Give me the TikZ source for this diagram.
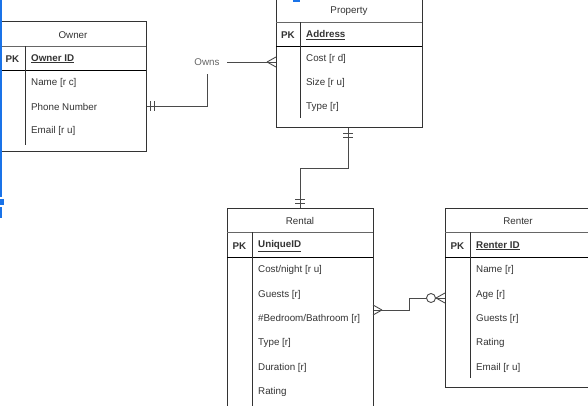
\documentclass[tikz,border=0pt]{standalone}
\usepackage{fontspec}
\setmainfont{Liberation Sans}
\definecolor{boxc}{HTML}{333333}
\definecolor{sepc}{HTML}{666666}
\definecolor{connc}{HTML}{4A4A4A}
\definecolor{txtc}{HTML}{333333}
\definecolor{selblue}{HTML}{1A73E8}
\begin{document}
\begin{tikzpicture}[x=1pt,y=-1pt,
  box/.style={draw=boxc, line width=0.9pt, inner sep=0pt, anchor=north west},
  ttl/.style={font=\fontsize{9.8}{11}\selectfont, text=txtc, inner sep=0pt, yshift=-0.8pt},
  fld/.style={font=\fontsize{9.8}{11}\selectfont, text=txtc, anchor=west, inner sep=0pt, yshift=-0.8pt},
  key/.style={fld, font=\fontsize{9.8}{11}\selectfont\bfseries},
  pk/.style={font=\fontsize{9.8}{11}\selectfont\bfseries, text=txtc, inner sep=0pt, yshift=-0.8pt},
  sep/.style={draw=sepc, line width=0.9pt},
  pksep/.style={draw=black, line width=1pt},
  vsep/.style={draw=boxc, line width=0.9pt},
  conn/.style={draw=connc, line width=0.9pt},
  lbl/.style={font=\fontsize{9.8}{11}\selectfont, text=sepc, fill=white, inner sep=0pt, minimum width=40pt, minimum height=24pt},
]
\useasboundingbox (0,0) rectangle (588,405);
\clip (0,0) rectangle (588,405);

% ---------- Owner ----------
\node[box, minimum width=146pt, minimum height=130pt] (owner) at (0,21) {};
\node[ttl] (ownerT) at (73,34) {Owner};
\draw[sep] (0,46) -- (146,46);
\draw[pksep] (0,70) -- (146,70);
\draw[vsep] (25,46) -- (25,145);
\node[pk] (ownerPK) at (12.5,58) {PK};
\node[key] (ownerK) at (31,58) {\underline{Owner ID}};
\node[fld] (ownerName) at (31,82) {Name [r c]};
\node[fld] (ownerPhone) at (31,106) {Phone Number};
\node[fld] (ownerEmail) at (31,130) {Email [r u]};

% ---------- Property ----------
\node[box, minimum width=146pt, minimum height=129pt] (property) at (276,-2) {};
\node[ttl] (propT) at (349,10) {Property};
\draw[sep] (276,22) -- (422,22);
\draw[pksep] (276,46) -- (422,46);
\draw[vsep] (300,22) -- (300,118);
\node[pk] (propPK) at (288,34) {PK};
\node[key] (propK) at (306,34) {\underline{Address}};
\node[fld] (propCost) at (306,58) {Cost [r d]};
\node[fld] (propSize) at (306,82) {Size [r u]};
\node[fld] (propType) at (306,106) {Type [r]};

% ---------- Rental ----------
\node[box, minimum width=146pt, minimum height=215pt] (rental) at (227,208) {};
\node[ttl] (rentalT) at (300,220) {Rental};
\draw[sep] (227,232) -- (373,232);
\draw[pksep] (227,257) -- (373,257);
\draw[vsep] (252,232) -- (252,420);
\node[pk] (rentalPK) at (239.5,245) {PK};
\node[key] (rentalK) at (258,245) {\underline{UniqueID}};
\node[fld] (rentalCost) at (258,269) {Cost/night [r u]};
\node[fld] (rentalGuests) at (258,294) {Guests [r]};
\node[fld] (rentalBed) at (258,318) {\#Bedroom/Bathroom [r]};
\node[fld] (rentalType) at (258,342) {Type [r]};
\node[fld] (rentalDur) at (258,367) {Duration [r]};
\node[fld] (rentalRating) at (258,391) {Rating};

% ---------- Renter ----------
\node[box, minimum width=146pt, minimum height=179pt] (renter) at (445,208) {};
\node[ttl] (renterT) at (518,220) {Renter};
\draw[sep] (445,232) -- (591,232);
\draw[pksep] (445,257) -- (591,257);
\draw[vsep] (470,232) -- (470,378);
\node[pk] (renterPK) at (457.5,245) {PK};
\node[key] (renterK) at (476,245) {\underline{Renter ID}};
\node[fld] (renterName) at (476,269) {Name [r]};
\node[fld] (renterAge) at (476,294) {Age [r]};
\node[fld] (renterGuests) at (476,318) {Guests [r]};
\node[fld] (renterRating) at (476,342) {Rating};
\node[fld] (renterEmail) at (476,367) {Email [r u]};

% ---------- Owner -- Property (Owns) ----------
\coordinate (ownsC) at (207,62);
\draw[conn] (owner.east |- ownerPhone) -| (ownsC) -- (property.west |- ownsC);
\draw[conn] (150,101) -- (150,111) (154,101) -- (154,111);
\draw[conn] (267,62) -- (276,57) (267,62) -- (276,67);
\node[lbl] (owns) at (ownsC) {Owns};

% ---------- Property -- Rental ----------
\coordinate (prB) at (348,168);
\coordinate (reT) at (300,168);
\draw[conn] (property.south -| prB) -- (prB) -- (reT) -- (rental.north -| reT);
\draw[conn] (343,133) -- (353,133) (343,137) -- (353,137);
\draw[conn] (295,199) -- (305,199) (295,203) -- (305,203);

% ---------- Rental -- Renter ----------
\coordinate (rrA) at (409,310);
\coordinate (rrB) at (409,298);
\draw[conn] (rental.east |- rrA) -- (rrA) -- (rrB) -- (renter.west |- rrB);
\draw[conn] (382,310) -- (373,305) (382,310) -- (373,315);
\draw[conn, fill=white] (431,298) circle[radius=4.5pt];
\draw[conn] (436,298) -- (445,293) (436,298) -- (445,303);

% ---------- selection marks ----------
\fill[selblue] (0,0) rectangle (2,197);
\fill[selblue] (0,199) rectangle (4,205);
\fill[selblue] (0,207) rectangle (2,218);
\fill[selblue] (293,0) rectangle (300,1.5);
\end{tikzpicture}
\end{document}
